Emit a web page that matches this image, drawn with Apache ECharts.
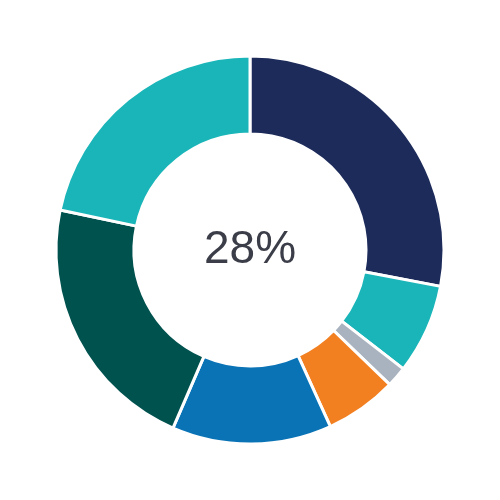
<!DOCTYPE html>
<html>
<head>
<meta charset="utf-8">
<script src="https://cdn.jsdelivr.net/npm/echarts@6/dist/echarts.min.js"></script>
<style>
html, body { margin: 0; padding: 0; background: #fff; }
#main { width: 500px; height: 500px; }
</style>
</head>
<body>
<div id="main"></div>
<script>
var names = ['A', 'B', 'C', 'D', 'E', 'F', 'G'];
var values = [28, 7.5, 1.7, 6, 13.3, 21.8, 21.7];
var colors = ['#1d2b5b', '#1ab5b8', '#a9b3bf', '#f27f20', '#0a73b6', '#00524f', '#1ab5b8'];
var centerLabel = '28%';

var myChart = echarts.init(document.getElementById('main'));
var option = {
    backgroundColor: '#fff',
    animation: false,
    title: {
        text: centerLabel,
        left: 'center',
        top: 'middle',
        textStyle: {
            fontFamily: 'Liberation Sans',
            fontSize: 46,
            fontWeight: 'normal',
            color: '#3b3d48'
        }
    },
    series: [{
        type: 'pie',
        center: [250, 250],
        radius: [116, 194],
        startAngle: 90,
        clockwise: true,
        label: { show: false },
        labelLine: { show: false },
        emphasis: { disabled: true },
        itemStyle: {
            borderColor: '#fff',
            borderWidth: 3
        },
        data: names.map(function (n, i) {
            return { name: n, value: values[i], itemStyle: { color: colors[i] } };
        })
    }]
};
myChart.setOption(option);
</script>
</body>
</html>
